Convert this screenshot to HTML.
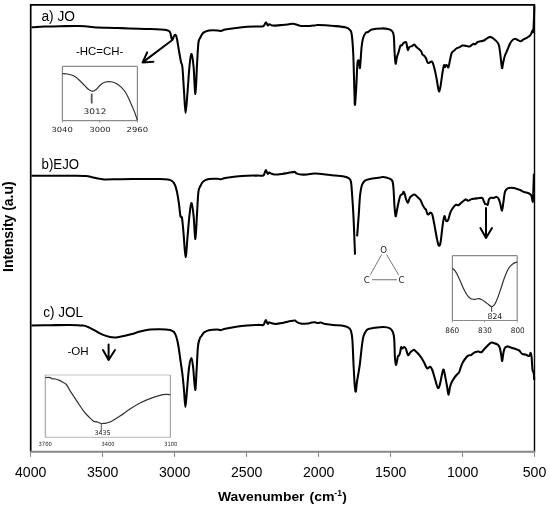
<!DOCTYPE html>
<html><head><meta charset="utf-8"><title>FTIR spectra</title>
<style>
html,body{margin:0;padding:0;background:#fff;}
body{width:550px;height:506px;overflow:hidden;}
svg{display:block;font-family:"Liberation Sans", Arial, sans-serif;}
</style></head><body>
<svg width="550" height="506" viewBox="0 0 550 506"><rect width="550" height="506" fill="#fff"/><path d="M30.7,452 V4.8 H534.5" fill="none" stroke="#000" stroke-width="1.7"/><path d="M534.5,3.95 V452" fill="none" stroke="#000" stroke-width="1.4"/><line x1="30" y1="451.8" x2="535" y2="451.8" stroke="#898989" stroke-width="1.9"/><line x1="30.5" y1="451" x2="30.5" y2="456.8" stroke="#898989" stroke-width="1.1"/><text x="15.0" y="477.1" font-size="14.6" fill="#000" textLength="31.4" lengthAdjust="spacingAndGlyphs">4000</text><line x1="102.5" y1="451" x2="102.5" y2="456.8" stroke="#898989" stroke-width="1.1"/><text x="87.0" y="477.1" font-size="14.6" fill="#000" textLength="31.4" lengthAdjust="spacingAndGlyphs">3500</text><line x1="174.5" y1="451" x2="174.5" y2="456.8" stroke="#898989" stroke-width="1.1"/><text x="159.0" y="477.1" font-size="14.6" fill="#000" textLength="31.4" lengthAdjust="spacingAndGlyphs">3000</text><line x1="246.5" y1="451" x2="246.5" y2="456.8" stroke="#898989" stroke-width="1.1"/><text x="231.0" y="477.1" font-size="14.6" fill="#000" textLength="31.4" lengthAdjust="spacingAndGlyphs">2500</text><line x1="318.5" y1="451" x2="318.5" y2="456.8" stroke="#898989" stroke-width="1.1"/><text x="303.0" y="477.1" font-size="14.6" fill="#000" textLength="31.4" lengthAdjust="spacingAndGlyphs">2000</text><line x1="390.5" y1="451" x2="390.5" y2="456.8" stroke="#898989" stroke-width="1.1"/><text x="375.0" y="477.1" font-size="14.6" fill="#000" textLength="31.4" lengthAdjust="spacingAndGlyphs">1500</text><line x1="462.5" y1="451" x2="462.5" y2="456.8" stroke="#898989" stroke-width="1.1"/><text x="447.0" y="477.1" font-size="14.6" fill="#000" textLength="31.4" lengthAdjust="spacingAndGlyphs">1000</text><line x1="534.5" y1="451" x2="534.5" y2="456.8" stroke="#898989" stroke-width="1.1"/><text x="522.7" y="477.1" font-size="14.6" fill="#000" textLength="23.6" lengthAdjust="spacingAndGlyphs">500</text><text y="500.5" font-size="13.7" font-weight="bold" fill="#000"><tspan x="218" textLength="86.5" lengthAdjust="spacingAndGlyphs">Wavenumber</tspan><tspan x="309.6" textLength="25" lengthAdjust="spacingAndGlyphs">(cm</tspan><tspan x="334.3" dy="-4.3" font-size="8.5">-1</tspan><tspan x="342.2" dy="4.3">)</tspan></text><text transform="translate(13.3,226.7) rotate(-90)" font-size="14" font-weight="bold" text-anchor="middle" fill="#000" textLength="90.6" lengthAdjust="spacingAndGlyphs">Intensity (a.u)</text><path d="M31.5,27.3 C33.75,27.18 40.25,26.78 45,26.6 C49.75,26.42 55.00,26.28 60,26.2 C65.00,26.12 70.83,26.10 75,26.1 C79.17,26.10 82.17,26.05 85,26.2 C87.83,26.35 89.83,26.77 92,27 C94.17,27.23 95.50,27.47 98,27.6 C100.50,27.73 103.67,27.73 107,27.8 C110.33,27.87 114.33,27.90 118,28 C121.67,28.10 124.50,28.25 129,28.4 C133.50,28.55 139.83,28.73 145,28.9 C150.17,29.07 156.50,29.22 160,29.4 C163.50,29.58 164.33,29.57 166,30 C167.67,30.43 169.00,30.33 170,32 C171.00,33.67 171.33,39.33 172,40 C172.67,40.67 173.40,36.83 174,36 C174.60,35.17 175.10,34.50 175.6,35 C176.10,35.50 176.43,36.33 177,39 C177.57,41.67 178.33,47.17 179,51 C179.67,54.83 180.43,59.33 181,62 C181.57,64.67 181.90,62.17 182.4,67 C182.90,71.83 183.47,83.33 184,91 C184.53,98.67 185.00,113.00 185.6,113 C186.20,113.00 186.93,99.00 187.6,91 C188.27,83.00 188.93,71.17 189.6,65 C190.27,58.83 190.93,53.67 191.6,54 C192.27,54.33 192.97,60.33 193.6,67 C194.23,73.67 194.83,94.33 195.4,94 C195.97,93.67 196.50,73.50 197,65 C197.50,56.50 197.83,47.58 198.4,43 C198.97,38.42 199.75,39.03 200.4,37.5 C201.05,35.97 201.62,34.72 202.3,33.8 C202.98,32.88 203.40,32.55 204.5,32 C205.60,31.45 206.72,30.77 208.9,30.5 C211.08,30.23 215.60,30.33 217.6,30.4 C219.60,30.47 219.62,31.03 220.9,30.9 C222.18,30.77 222.75,30.10 225.3,29.6 C227.85,29.10 232.57,28.37 236.2,27.9 C239.83,27.43 243.47,27.03 247.1,26.8 C250.73,26.57 255.32,26.60 258,26.5 C260.68,26.40 262.10,26.53 263.2,26.2 C264.30,25.87 264.15,25.13 264.6,24.5 C265.05,23.87 265.50,22.48 265.9,22.4 C266.30,22.32 266.67,23.50 267,24 C267.33,24.50 267.53,25.35 267.9,25.4 C268.27,25.45 268.77,24.40 269.2,24.3 C269.63,24.20 269.78,24.58 270.5,24.8 C271.22,25.02 271.53,25.57 273.5,25.6 C275.47,25.63 279.88,25.20 282.3,25 C284.72,24.80 286.18,24.62 288,24.4 C289.82,24.18 291.80,23.67 293.2,23.7 C294.60,23.73 295.13,24.23 296.4,24.6 C297.67,24.97 298.62,25.68 300.8,25.9 C302.98,26.12 307.13,25.98 309.5,25.9 C311.87,25.82 313.58,25.55 315,25.4 C316.42,25.25 314.83,24.90 318,25 C321.17,25.10 329.33,25.60 334,26 C338.67,26.40 343.33,26.73 346,27.4 C348.67,28.07 349.03,28.73 350,30 C350.97,31.27 351.25,30.83 351.8,35 C352.35,39.17 352.85,45.00 353.3,55 C353.75,65.00 354.22,86.72 354.5,95 C354.78,103.28 354.72,105.87 355,104.7 C355.28,103.53 355.80,94.78 356.2,88 C356.60,81.22 357.05,68.58 357.4,64 C357.75,59.42 358.02,60.92 358.3,60.5 C358.58,60.08 358.83,60.20 359.1,61.5 C359.37,62.80 359.63,68.72 359.9,68.3 C360.17,67.88 360.42,62.55 360.7,59 C360.98,55.45 361.22,50.42 361.6,47 C361.98,43.58 362.33,40.83 363,38.5 C363.67,36.17 364.77,34.08 365.6,33 C366.43,31.92 366.93,32.60 368,32 C369.07,31.40 369.67,30.00 372,29.4 C374.33,28.80 379.33,28.45 382,28.4 C384.67,28.35 386.32,28.63 388,29.1 C389.68,29.57 391.13,30.03 392.1,31.2 C393.07,32.37 393.38,32.52 393.8,36.1 C394.22,39.68 394.30,48.10 394.6,52.7 C394.90,57.30 395.20,63.02 395.6,63.7 C396.00,64.38 396.53,58.63 397,56.8 C397.47,54.97 397.83,54.55 398.4,52.7 C398.97,50.85 399.83,46.90 400.4,45.7 C400.97,44.50 401.45,45.72 401.8,45.5 C402.15,45.28 402.22,44.82 402.5,44.4 C402.78,43.98 403.10,43.35 403.5,43 C403.90,42.65 404.43,42.35 404.9,42.3 C405.37,42.25 405.88,41.67 406.3,42.7 C406.72,43.73 407.10,47.30 407.4,48.5 C407.70,49.70 407.77,50.13 408.1,49.9 C408.43,49.67 408.72,47.75 409.4,47.1 C410.08,46.45 411.38,46.42 412.2,46 C413.02,45.58 413.60,44.45 414.3,44.6 C415.00,44.75 415.60,46.13 416.4,46.9 C417.20,47.67 418.30,48.47 419.1,49.2 C419.90,49.93 420.67,50.45 421.2,51.3 C421.73,52.15 421.80,53.57 422.3,54.3 C422.80,55.03 423.58,55.05 424.2,55.7 C424.82,56.35 425.47,57.10 426,58.2 C426.53,59.30 426.93,61.50 427.4,62.3 C427.87,63.10 428.22,63.10 428.8,63 C429.38,62.90 430.28,61.82 430.9,61.7 C431.52,61.58 431.93,61.27 432.5,62.3 C433.07,63.33 433.65,65.35 434.3,67.9 C434.95,70.45 435.70,73.92 436.4,77.6 C437.10,81.28 437.98,87.82 438.5,90 C439.02,92.18 439.15,91.38 439.5,90.7 C439.85,90.02 440.08,89.02 440.6,85.9 C441.12,82.78 442.03,75.47 442.6,72 C443.17,68.53 443.60,65.90 444,65.1 C444.40,64.30 444.65,67.20 445,67.2 C445.35,67.20 445.73,65.38 446.1,65.1 C446.47,64.82 446.80,65.15 447.2,65.5 C447.60,65.85 448.02,68.18 448.5,67.2 C448.98,66.22 449.55,62.02 450.1,59.6 C450.65,57.18 451.10,54.20 451.8,52.7 C452.50,51.20 453.53,51.30 454.3,50.6 C455.07,49.90 455.60,49.03 456.4,48.5 C457.20,47.97 458.12,47.90 459.1,47.4 C460.08,46.90 461.37,45.78 462.3,45.5 C463.23,45.22 463.97,45.62 464.7,45.7 C465.43,45.78 465.90,45.88 466.7,46 C467.50,46.12 468.68,46.55 469.5,46.4 C470.32,46.25 470.90,45.55 471.6,45.1 C472.30,44.65 473.13,43.82 473.7,43.7 C474.27,43.58 474.32,44.70 475,44.4 C475.68,44.10 476.87,42.42 477.8,41.9 C478.73,41.38 479.57,41.53 480.6,41.3 C481.63,41.07 482.85,41.03 484,40.5 C485.15,39.97 486.42,38.70 487.5,38.1 C488.58,37.50 489.47,36.78 490.5,36.9 C491.53,37.02 492.47,37.78 493.7,38.8 C494.93,39.82 496.97,41.62 497.9,43 C498.83,44.38 498.85,44.80 499.3,47.1 C499.75,49.40 500.15,53.32 500.6,56.8 C501.05,60.28 501.57,67.05 502,68 C502.43,68.95 502.73,64.50 503.2,62.5 C503.67,60.50 504.18,57.88 504.8,56 C505.42,54.12 506.08,53.15 506.9,51.2 C507.72,49.25 508.77,46.15 509.7,44.3 C510.63,42.45 511.58,41.02 512.5,40.1 C513.42,39.18 514.28,38.80 515.2,38.8 C516.12,38.80 517.07,39.70 518,40.1 C518.93,40.50 519.88,41.32 520.8,41.2 C521.72,41.08 522.58,39.92 523.5,39.4 C524.42,38.88 525.37,38.62 526.3,38.1 C527.23,37.58 528.30,37.00 529.1,36.3 C529.90,35.60 530.53,34.88 531.1,33.9 C531.67,32.92 532.15,30.75 532.5,30.4 C532.85,30.05 532.97,33.40 533.2,31.8 C533.43,30.20 533.72,25.18 533.9,20.8 C534.08,16.42 534.23,8.05 534.3,5.5" fill="none" stroke="#000" stroke-width="2.05" stroke-linejoin="round" stroke-linecap="butt"/><path d="M31.5,175.8 C34.58,175.78 42.58,175.72 50,175.7 C57.42,175.68 70.00,175.65 76,175.7 C82.00,175.75 83.33,175.75 86,176 C88.67,176.25 90.00,176.77 92,177.2 C94.00,177.63 96.00,178.23 98,178.6 C100.00,178.97 100.33,179.30 104,179.4 C107.67,179.50 114.00,179.27 120,179.2 C126.00,179.13 133.33,179.03 140,179 C146.67,178.97 155.33,178.90 160,179 C164.67,179.10 166.00,179.27 168,179.6 C170.00,179.93 170.83,180.10 172,181 C173.17,181.90 174.17,183.17 175,185 C175.83,186.83 176.33,188.83 177,192 C177.67,195.17 178.43,200.00 179,204 C179.57,208.00 179.90,213.67 180.4,216 C180.90,218.33 181.47,215.00 182,218 C182.53,221.00 183.00,227.50 183.6,234 C184.20,240.50 184.93,256.67 185.6,257 C186.27,257.33 186.93,243.17 187.6,236 C188.27,228.83 188.93,219.50 189.6,214 C190.27,208.50 190.93,202.67 191.6,203 C192.27,203.33 192.97,210.00 193.6,216 C194.23,222.00 194.83,239.33 195.4,239 C195.97,238.67 196.50,221.83 197,214 C197.50,206.17 197.83,196.67 198.4,192 C198.97,187.33 199.75,187.58 200.4,186 C201.05,184.42 201.62,183.40 202.3,182.5 C202.98,181.60 203.40,181.18 204.5,180.6 C205.60,180.02 206.72,179.30 208.9,179 C211.08,178.70 215.60,178.75 217.6,178.8 C219.60,178.85 219.62,179.42 220.9,179.3 C222.18,179.18 222.75,178.55 225.3,178.1 C227.85,177.65 232.57,177.00 236.2,176.6 C239.83,176.20 243.47,175.87 247.1,175.7 C250.73,175.53 255.32,175.63 258,175.6 C260.68,175.57 262.10,175.93 263.2,175.5 C264.30,175.07 264.15,173.90 264.6,173 C265.05,172.10 265.50,170.18 265.9,170.1 C266.30,170.02 266.67,171.87 267,172.5 C267.33,173.13 267.53,173.88 267.9,173.9 C268.27,173.92 268.75,172.70 269.2,172.6 C269.65,172.50 269.70,172.98 270.6,173.3 C271.50,173.62 272.65,174.40 274.6,174.5 C276.55,174.60 280.12,174.15 282.3,173.9 C284.48,173.65 285.62,173.33 287.7,173 C289.78,172.67 293.35,171.83 294.8,171.9 C296.25,171.97 295.40,172.97 296.4,173.4 C297.40,173.83 298.98,174.32 300.8,174.5 C302.62,174.68 304.93,174.65 307.3,174.5 C309.67,174.35 311.22,173.52 315,173.6 C318.78,173.68 325.17,174.53 330,175 C334.83,175.47 340.83,175.83 344,176.4 C347.17,176.97 347.83,177.47 349,178.4 C350.17,179.33 350.47,179.07 351,182 C351.53,184.93 351.80,190.50 352.2,196 C352.60,201.50 353.05,208.33 353.4,215 C353.75,221.67 354.03,229.40 354.3,236 C354.57,242.60 354.88,251.50 355,254.6 M357.1,236.3 C357.38,232.58 358.32,220.72 358.8,214 C359.28,207.28 359.47,200.83 360,196 C360.53,191.17 361.17,187.57 362,185 C362.83,182.43 363.67,181.60 365,180.6 C366.33,179.60 367.50,179.50 370,179 C372.50,178.50 377.83,177.93 380,177.6 C382.17,177.27 381.50,176.87 383,177 C384.50,177.13 387.43,177.73 389,178.4 C390.57,179.07 391.63,179.07 392.4,181 C393.17,182.93 393.27,186.00 393.6,190 C393.93,194.00 394.07,200.63 394.4,205 C394.73,209.37 395.17,215.37 395.6,216.2 C396.03,217.03 396.53,212.20 397,210 C397.47,207.80 397.90,205.25 398.4,203 C398.90,200.75 399.50,197.92 400,196.5 C400.50,195.08 400.97,194.92 401.4,194.5 C401.83,194.08 402.25,194.45 402.6,194 C402.95,193.55 403.17,191.88 403.5,191.8 C403.83,191.72 404.18,192.30 404.6,193.5 C405.02,194.70 405.47,197.45 406,199 C406.53,200.55 407.30,202.63 407.8,202.8 C408.30,202.97 408.62,200.92 409,200 C409.38,199.08 409.60,198.03 410.1,197.3 C410.60,196.57 411.30,196.07 412,195.6 C412.70,195.13 413.63,194.52 414.3,194.5 C414.97,194.48 415.43,195.03 416,195.5 C416.57,195.97 416.95,196.55 417.7,197.3 C418.45,198.05 419.68,198.73 420.5,200 C421.32,201.27 421.90,203.50 422.6,204.9 C423.30,206.30 424.13,207.60 424.7,208.4 C425.27,209.20 425.55,208.78 426,209.7 C426.45,210.62 426.93,213.13 427.4,213.9 C427.87,214.67 428.33,214.53 428.8,214.3 C429.27,214.07 429.62,212.45 430.2,212.5 C430.78,212.55 431.62,212.63 432.3,214.6 C432.98,216.57 433.50,220.15 434.3,224.3 C435.10,228.45 436.33,235.93 437.1,239.5 C437.87,243.07 438.32,245.25 438.9,245.7 C439.48,246.15 439.98,245.55 440.6,242.2 C441.22,238.85 441.97,229.93 442.6,225.6 C443.23,221.27 443.82,217.00 444.4,216.2 C444.98,215.40 445.48,220.15 446.1,220.8 C446.72,221.45 447.43,221.37 448.1,220.1 C448.77,218.83 449.42,215.05 450.1,213.2 C450.78,211.35 451.27,210.38 452.2,209 C453.13,207.62 454.67,205.53 455.7,204.9 C456.73,204.27 457.48,205.55 458.4,205.2 C459.32,204.85 460.27,203.58 461.2,202.8 C462.13,202.02 463.18,201.07 464,200.5 C464.82,199.93 465.42,199.37 466.1,199.4 C466.78,199.43 467.30,200.70 468.1,200.7 C468.90,200.70 469.97,199.73 470.9,199.4 C471.83,199.07 472.55,198.88 473.7,198.7 C474.85,198.52 476.38,198.42 477.8,198.3 C479.22,198.18 481.23,197.60 482.2,198 C483.17,198.40 483.13,199.73 483.6,200.7 C484.07,201.67 484.53,203.22 485,203.8 C485.47,204.38 485.93,204.07 486.4,204.2 C486.87,204.33 487.38,205.40 487.8,204.6 C488.22,203.80 488.37,200.55 488.9,199.4 C489.43,198.25 490.20,197.93 491,197.7 C491.80,197.47 492.78,198.13 493.7,198 C494.62,197.87 495.68,196.78 496.5,196.9 C497.32,197.02 497.98,197.60 498.6,198.7 C499.22,199.80 499.63,201.50 500.2,203.5 C500.77,205.50 501.47,210.93 502,210.7 C502.53,210.47 502.93,205.15 503.4,202.1 C503.87,199.05 504.28,194.52 504.8,192.4 C505.32,190.28 505.80,190.13 506.5,189.4 C507.20,188.67 507.75,188.23 509,188 C510.25,187.77 512.67,187.83 514,188 C515.33,188.17 516.00,188.67 517,189 C518.00,189.33 518.83,189.50 520,190 C521.17,190.50 522.67,191.50 524,192 C525.33,192.50 526.83,192.50 528,193 C529.17,193.50 530.35,194.23 531,195 C531.65,195.77 531.58,196.53 531.9,197.6 C532.22,198.67 532.63,203.33 532.9,201.4 C533.17,199.47 533.33,190.60 533.5,186 C533.67,181.40 533.83,175.83 533.9,173.8" fill="none" stroke="#000" stroke-width="2.05" stroke-linejoin="round" stroke-linecap="butt"/><path d="M31.5,325.4 C34.58,325.37 43.58,325.27 50,325.2 C56.42,325.13 64.50,324.93 70,325 C75.50,325.07 80.00,325.27 83,325.6 C86.00,325.93 86.17,326.27 88,327 C89.83,327.73 91.67,328.77 94,330 C96.33,331.23 99.33,333.23 102,334.4 C104.67,335.57 107.67,336.50 110,337 C112.33,337.50 113.67,337.57 116,337.4 C118.33,337.23 121.33,336.57 124,336 C126.67,335.43 129.33,334.75 132,334 C134.67,333.25 137.00,332.23 140,331.5 C143.00,330.77 146.67,329.98 150,329.6 C153.33,329.22 156.67,329.13 160,329.2 C163.33,329.27 167.67,329.53 170,330 C172.33,330.47 172.93,330.83 174,332 C175.07,333.17 175.67,334.67 176.4,337 C177.13,339.33 177.73,342.17 178.4,346 C179.07,349.83 179.73,355.33 180.4,360 C181.07,364.67 181.80,369.00 182.4,374 C183.00,379.00 183.50,384.50 184,390 C184.50,395.50 184.90,407.00 185.4,407 C185.90,407.00 186.40,396.50 187,390 C187.60,383.50 188.27,373.33 189,368 C189.73,362.67 190.70,358.00 191.4,358 C192.10,358.00 192.57,362.67 193.2,368 C193.83,373.33 194.63,389.67 195.2,390 C195.77,390.33 196.13,377.33 196.6,370 C197.07,362.67 197.43,351.33 198,346 C198.57,340.67 199.42,339.67 200,338 C200.58,336.33 201.00,336.73 201.5,336 C202.00,335.27 202.50,334.23 203,333.6 C203.50,332.97 203.52,332.75 204.5,332.2 C205.48,331.65 206.72,330.73 208.9,330.3 C211.08,329.87 215.60,329.63 217.6,329.6 C219.60,329.57 219.62,330.23 220.9,330.1 C222.18,329.97 222.75,329.35 225.3,328.8 C227.85,328.25 232.57,327.35 236.2,326.8 C239.83,326.25 243.47,325.82 247.1,325.5 C250.73,325.18 255.32,324.98 258,324.9 C260.68,324.82 262.10,325.40 263.2,325 C264.30,324.60 264.15,323.32 264.6,322.5 C265.05,321.68 265.50,320.10 265.9,320.1 C266.30,320.10 266.67,321.87 267,322.5 C267.33,323.13 267.53,323.93 267.9,323.9 C268.27,323.87 268.68,322.45 269.2,322.3 C269.72,322.15 269.92,322.73 271,323 C272.08,323.27 273.82,323.90 275.7,323.9 C277.58,323.90 280.30,323.37 282.3,323 C284.30,322.63 285.62,322.13 287.7,321.7 C289.78,321.27 293.35,320.40 294.8,320.4 C296.25,320.40 295.40,321.17 296.4,321.7 C297.40,322.23 298.98,323.28 300.8,323.6 C302.62,323.92 305.48,323.77 307.3,323.6 C309.12,323.43 310.42,322.82 311.7,322.6 C312.98,322.38 313.95,322.23 315,322.3 C316.05,322.37 317.00,322.95 318,323 C319.00,323.05 319.83,322.43 321,322.6 C322.17,322.77 322.83,323.60 325,324 C327.17,324.40 330.83,324.67 334,325 C337.17,325.33 341.50,325.50 344,326 C346.50,326.50 347.83,327.17 349,328 C350.17,328.83 350.43,329.00 351,331 C351.57,333.00 351.97,334.17 352.4,340 C352.83,345.83 353.20,358.33 353.6,366 C354.00,373.67 354.43,381.73 354.8,386 C355.17,390.27 355.45,392.22 355.8,391.6 C356.15,390.98 356.48,385.23 356.9,382.3 C357.32,379.37 357.82,376.97 358.3,374 C358.78,371.03 359.18,369.30 359.8,364.5 C360.42,359.70 361.38,349.90 362,345.2 C362.62,340.50 362.75,338.77 363.5,336.3 C364.25,333.83 365.42,331.68 366.5,330.4 C367.58,329.12 368.63,329.05 370,328.6 C371.37,328.15 372.43,327.97 374.7,327.7 C376.97,327.43 381.13,326.92 383.6,327 C386.07,327.08 387.97,327.38 389.5,328.2 C391.03,329.02 392.02,330.13 392.8,331.9 C393.58,333.67 393.85,334.65 394.2,338.8 C394.55,342.95 394.62,352.47 394.9,356.8 C395.18,361.13 395.55,364.10 395.9,364.8 C396.25,365.50 396.65,362.45 397,361 C397.35,359.55 397.65,357.03 398,356.1 C398.35,355.17 398.73,356.08 399.1,355.4 C399.47,354.72 399.87,353.38 400.2,352 C400.53,350.62 400.72,347.68 401.1,347.1 C401.48,346.52 401.97,348.53 402.5,348.5 C403.03,348.47 403.77,346.90 404.3,346.9 C404.83,346.90 405.30,347.77 405.7,348.5 C406.10,349.23 406.30,350.18 406.7,351.3 C407.10,352.42 407.53,354.97 408.1,355.2 C408.67,355.43 409.18,353.58 410.1,352.7 C411.02,351.82 412.67,350.13 413.6,349.9 C414.53,349.67 414.90,350.62 415.7,351.3 C416.50,351.98 417.48,352.97 418.4,354 C419.32,355.03 420.27,356.12 421.2,357.5 C422.13,358.88 423.08,360.57 424,362.3 C424.92,364.03 426.02,366.92 426.7,367.9 C427.38,368.88 427.52,368.38 428.1,368.2 C428.68,368.02 429.50,366.50 430.2,366.8 C430.90,367.10 431.50,367.98 432.3,370 C433.10,372.02 434.08,375.92 435,378.9 C435.92,381.88 436.98,386.97 437.8,387.9 C438.62,388.83 439.22,386.68 439.9,384.5 C440.58,382.32 441.28,377.30 441.9,374.8 C442.52,372.30 443.02,369.03 443.6,369.5 C444.18,369.97 444.80,374.65 445.4,377.6 C446.00,380.55 446.68,384.33 447.2,387.2 C447.72,390.07 448.05,394.73 448.5,394.8 C448.95,394.87 449.40,389.62 449.9,387.6 C450.40,385.58 450.77,384.32 451.5,382.7 C452.23,381.08 453.37,379.28 454.3,377.9 C455.23,376.52 456.30,375.33 457.1,374.4 C457.90,373.47 458.53,373.33 459.1,372.3 C459.67,371.27 459.92,369.80 460.5,368.2 C461.08,366.60 461.78,364.32 462.6,362.7 C463.42,361.08 464.48,359.67 465.4,358.5 C466.32,357.33 467.18,356.27 468.1,355.7 C469.02,355.13 469.97,355.55 470.9,355.1 C471.83,354.65 472.90,353.53 473.7,353 C474.50,352.47 474.90,352.13 475.7,351.9 C476.50,351.67 477.57,351.53 478.5,351.6 C479.43,351.67 480.50,352.53 481.3,352.3 C482.10,352.07 482.27,351.28 483.3,350.2 C484.33,349.12 486.22,347.07 487.5,345.8 C488.78,344.53 489.97,343.07 491,342.6 C492.03,342.13 492.55,342.65 493.7,343 C494.85,343.35 496.87,343.85 497.9,344.7 C498.93,345.55 499.33,346.27 499.9,348.1 C500.47,349.93 500.92,353.55 501.3,355.7 C501.68,357.85 501.85,361.45 502.2,361 C502.55,360.55 502.97,355.15 503.4,353 C503.83,350.85 504.20,349.20 504.8,348.1 C505.40,347.00 506.13,346.55 507,346.4 C507.87,346.25 508.65,346.80 510,347.2 C511.35,347.60 513.60,348.27 515.1,348.8 C516.60,349.33 517.82,349.53 519,350.4 C520.18,351.27 521.13,353.32 522.2,354 C523.27,354.68 524.22,354.17 525.4,354.5 C526.58,354.83 528.43,356.27 529.3,356 C530.17,355.73 530.22,352.73 530.6,352.9 C530.98,353.07 531.28,354.23 531.6,357 C531.92,359.77 532.13,366.77 532.5,369.5 C532.87,372.23 533.52,371.65 533.8,373.4 C534.08,375.15 534.13,378.90 534.2,380" fill="none" stroke="#000" stroke-width="2.05" stroke-linejoin="round" stroke-linecap="butt"/><text x="41.4" y="20.8" font-size="14" fill="#000" textLength="33.6" lengthAdjust="spacingAndGlyphs">a) JO</text><text x="41.6" y="168.5" font-size="13.8" fill="#000" textLength="37.5" lengthAdjust="spacingAndGlyphs">b)EJO</text><text x="43.2" y="317.1" font-size="13.8" fill="#000" textLength="40" lengthAdjust="spacingAndGlyphs">c) JOL</text><text x="75.9" y="54.7" font-size="11.2" fill="#000" textLength="47.4" lengthAdjust="spacingAndGlyphs">-HC=CH-</text><text x="67.4" y="354.7" font-size="11.3" fill="#000" textLength="21.2" lengthAdjust="spacingAndGlyphs">-OH</text><g fill="none" stroke="#000" stroke-width="2" stroke-linecap="round" stroke-linejoin="round"><path d="M171,41 L142.6,62.4 M147.2,52.4 L142.6,62.4 L153.4,61.8"/><path d="M486,208 V238 M480.4,228 L486,238 L492,228"/><path d="M108.6,344.4 V360 M103,350 L108.6,360 L115,350"/></g><path d="M62.4,120.6 H137.4 M137.4,66.4 H62.4" fill="none" stroke="#8a8a8a" stroke-width="1.2"/><path d="M137.4,66.4 V120.6 M62.4,66.4 V120.6" fill="none" stroke="#8a8a8a" stroke-width="1.2"/><line x1="62.4" y1="120.6" x2="62.4" y2="122.39999999999999" stroke="#8a8a8a" stroke-width="1"/><line x1="99.6" y1="120.6" x2="99.6" y2="122.39999999999999" stroke="#8a8a8a" stroke-width="1"/><line x1="137.4" y1="120.6" x2="137.4" y2="122.39999999999999" stroke="#8a8a8a" stroke-width="1"/><path d="M62.4,73.6 C63.22,73.67 65.77,73.77 67.3,74 C68.83,74.23 70.15,74.45 71.6,75 C73.05,75.55 74.53,76.25 76,77.3 C77.47,78.35 78.95,79.92 80.4,81.3 C81.85,82.68 83.37,84.27 84.7,85.6 C86.03,86.93 87.30,88.40 88.4,89.3 C89.50,90.20 90.45,90.72 91.3,91 C92.15,91.28 92.65,91.28 93.5,91 C94.35,90.72 95.32,90.25 96.4,89.3 C97.48,88.35 98.80,86.40 100,85.3 C101.20,84.20 102.27,83.32 103.6,82.7 C104.93,82.08 106.53,81.72 108,81.6 C109.47,81.48 110.95,81.65 112.4,82 C113.85,82.35 115.25,82.85 116.7,83.7 C118.15,84.55 119.63,85.68 121.1,87.1 C122.57,88.52 124.05,89.90 125.5,92.2 C126.95,94.50 128.35,97.75 129.8,100.9 C131.25,104.05 132.93,107.88 134.2,111.1 C135.47,114.32 136.87,118.68 137.4,120.2" fill="none" stroke="#333" stroke-width="1.2"/><line x1="91.7" y1="93.6" x2="91.7" y2="103.5" stroke="#555" stroke-width="1.8"/><path d="M452.4,320.5 H517.2 M517.2,255.6 H452.4" fill="none" stroke="#8a8a8a" stroke-width="1.2"/><path d="M517.2,255.6 V320.5 M452.4,255.6 V320.5" fill="none" stroke="#8a8a8a" stroke-width="1.2"/><line x1="452.4" y1="320.5" x2="452.4" y2="322.3" stroke="#8a8a8a" stroke-width="1"/><line x1="484.6" y1="320.5" x2="484.6" y2="322.3" stroke="#8a8a8a" stroke-width="1"/><line x1="517.2" y1="320.5" x2="517.2" y2="322.3" stroke="#8a8a8a" stroke-width="1"/><path d="M452.4,268.3 C452.82,268.70 454.02,269.50 454.9,270.7 C455.78,271.90 456.67,273.43 457.7,275.5 C458.73,277.57 459.95,280.57 461.1,283.1 C462.25,285.63 463.43,288.50 464.6,290.7 C465.77,292.90 466.95,294.92 468.1,296.3 C469.25,297.68 470.35,298.48 471.5,299 C472.65,299.52 473.85,299.45 475,299.4 C476.15,299.35 477.25,298.65 478.4,298.7 C479.55,298.75 480.75,299.13 481.9,299.7 C483.05,300.27 484.15,301.25 485.3,302.1 C486.45,302.95 487.75,304.05 488.8,304.8 C489.85,305.55 490.80,306.45 491.6,306.6 C492.40,306.75 492.92,306.38 493.6,305.7 C494.28,305.02 494.88,304.18 495.7,302.5 C496.52,300.82 497.57,298.13 498.5,295.6 C499.43,293.07 500.38,290.07 501.3,287.3 C502.22,284.53 503.08,281.55 504,279 C504.92,276.45 505.88,273.97 506.8,272 C507.72,270.03 508.58,268.47 509.5,267.2 C510.42,265.93 511.37,265.17 512.3,264.4 C513.23,263.63 514.28,263.00 515.1,262.6 C515.92,262.20 516.85,262.10 517.2,262" fill="none" stroke="#333" stroke-width="1.2"/><line x1="491.6" y1="307" x2="491.6" y2="311.8" stroke="#555" stroke-width="1.2"/><path d="M45.3,437.4 H170.4 M170.4,375 H45.3" fill="none" stroke="#c4c4c4" stroke-width="1.2"/><path d="M170.4,375 V437.4 M45.3,375 V437.4" fill="none" stroke="#a8a8a8" stroke-width="1.2"/><path d="M45.5,377.6 C45.92,377.57 47.18,377.40 48,377.4 C48.82,377.40 49.67,377.35 50.4,377.6 C51.13,377.85 51.60,378.67 52.4,378.9 C53.20,379.13 54.03,378.75 55.2,379 C56.37,379.25 58.13,379.87 59.4,380.4 C60.67,380.93 61.77,381.63 62.8,382.2 C63.83,382.77 64.78,383.07 65.6,383.8 C66.42,384.53 66.90,385.33 67.7,386.6 C68.50,387.87 69.25,389.55 70.4,391.4 C71.55,393.25 73.22,395.62 74.6,397.7 C75.98,399.78 77.32,401.83 78.7,403.9 C80.08,405.97 81.52,408.25 82.9,410.1 C84.28,411.95 85.62,413.50 87,415 C88.38,416.50 90.05,418.02 91.2,419.1 C92.35,420.18 93.10,421.07 93.9,421.5 C94.70,421.93 95.30,421.57 96,421.7 C96.70,421.83 97.28,422.00 98.1,422.3 C98.92,422.60 99.98,423.32 100.9,423.5 C101.82,423.68 102.68,423.45 103.6,423.4 C104.52,423.35 105.47,423.38 106.4,423.2 C107.33,423.02 108.27,422.67 109.2,422.3 C110.13,421.93 110.20,422.05 112,421 C113.80,419.95 117.00,418.00 120,416 C123.00,414.00 126.67,411.17 130,409 C133.33,406.83 136.67,404.73 140,403 C143.33,401.27 146.67,399.87 150,398.6 C153.33,397.33 157.33,396.10 160,395.4 C162.67,394.70 164.27,394.53 166,394.4 C167.73,394.27 169.67,394.57 170.4,394.6" fill="none" stroke="#333" stroke-width="1.2"/><line x1="101.3" y1="423.7" x2="101.3" y2="430.9" stroke="#555" stroke-width="1.0"/><text x="51.4" y="132" font-size="7" fill="#262626" font-family='"DejaVu Sans", "Liberation Sans", sans-serif' textLength="21.4" lengthAdjust="spacingAndGlyphs">3040</text><text x="89.4" y="132" font-size="7" fill="#262626" font-family='"DejaVu Sans", "Liberation Sans", sans-serif' textLength="21.3" lengthAdjust="spacingAndGlyphs">3000</text><text x="126.6" y="132" font-size="7" fill="#262626" font-family='"DejaVu Sans", "Liberation Sans", sans-serif' textLength="21.4" lengthAdjust="spacingAndGlyphs">2960</text><text x="83.4" y="113.8" font-size="7.6" fill="#222" font-family='"DejaVu Sans", "Liberation Sans", sans-serif' textLength="23.0" lengthAdjust="spacingAndGlyphs">3012</text><text x="445.3" y="333.2" font-size="7.6" fill="#262626" font-family='"DejaVu Sans", "Liberation Sans", sans-serif' textLength="13.9" lengthAdjust="spacingAndGlyphs">860</text><text x="478.1" y="333.2" font-size="7.6" fill="#262626" font-family='"DejaVu Sans", "Liberation Sans", sans-serif' textLength="13.9" lengthAdjust="spacingAndGlyphs">830</text><text x="510.8" y="333.2" font-size="7.6" fill="#262626" font-family='"DejaVu Sans", "Liberation Sans", sans-serif' textLength="13.9" lengthAdjust="spacingAndGlyphs">800</text><text x="487.5" y="318.8" font-size="7.8" fill="#222" font-family='"DejaVu Sans", "Liberation Sans", sans-serif' textLength="14.7" lengthAdjust="spacingAndGlyphs">824</text><text x="38.4" y="446.3" font-size="5.7" fill="#262626" font-family='"DejaVu Sans", "Liberation Sans", sans-serif' textLength="13.5" lengthAdjust="spacingAndGlyphs">3700</text><text x="101.6" y="446.3" font-size="5.7" fill="#262626" font-family='"DejaVu Sans", "Liberation Sans", sans-serif' textLength="13.0" lengthAdjust="spacingAndGlyphs">3400</text><text x="164.2" y="446.3" font-size="5.7" fill="#262626" font-family='"DejaVu Sans", "Liberation Sans", sans-serif' textLength="13.0" lengthAdjust="spacingAndGlyphs">3100</text><text x="94.5" y="434.8" font-size="6.4" fill="#222" font-family='"DejaVu Sans", "Liberation Sans", sans-serif' textLength="16.0" lengthAdjust="spacingAndGlyphs">3435</text><g fill="#222" font-size="8.6" text-anchor="middle" font-family='"DejaVu Sans", "Liberation Sans", sans-serif'><text x="383.7" y="253">O</text><text x="366.8" y="282.9">C</text><text x="401.5" y="282.9">C</text></g><g stroke="#555" stroke-width="0.8"><line x1="381.7" y1="254.6" x2="370.3" y2="274.8"/><line x1="386.6" y1="254.6" x2="398.6" y2="274.8"/></g><line x1="371.9" y1="279.7" x2="397" y2="279.7" stroke="#888" stroke-width="1.2"/></svg>
</body></html>
